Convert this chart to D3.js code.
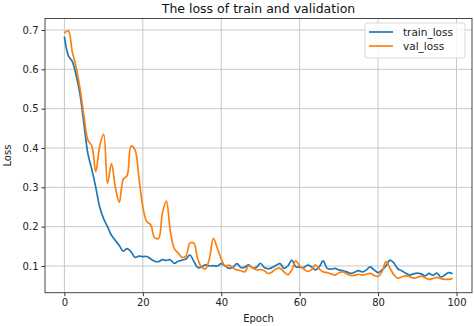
<body style="margin:0;background:#fff">
<script src="https://d3js.org/d3.v7.min.js"></script>
<script>
    const epochs = d3.range(0, 100);
    const trainLoss = [
        0.683, 0.635, 0.620, 0.585, 0.535, 0.460, 0.385, 0.345, 0.300, 0.250,
        0.220, 0.200, 0.178, 0.165, 0.152, 0.138, 0.144, 0.136, 0.122, 0.125,
        0.124, 0.124, 0.118, 0.112, 0.111, 0.116, 0.114, 0.116, 0.107, 0.112,
        0.115, 0.118, 0.128, 0.112, 0.096, 0.098, 0.103, 0.100, 0.101, 0.100,
        0.106, 0.100, 0.094, 0.097, 0.106, 0.096, 0.097, 0.103, 0.095, 0.097,
        0.107, 0.096, 0.093, 0.096, 0.102, 0.106, 0.094, 0.100, 0.115, 0.098,
        0.097, 0.096, 0.102, 0.098, 0.090, 0.098, 0.113, 0.094, 0.092, 0.094,
        0.090, 0.088, 0.085, 0.081, 0.084, 0.088, 0.085, 0.090, 0.098, 0.090,
        0.083, 0.090, 0.100, 0.115, 0.108, 0.093, 0.088, 0.082, 0.077, 0.080,
        0.082, 0.080, 0.075, 0.081, 0.076, 0.082, 0.072, 0.077, 0.083, 0.080
    ];
    const valLoss = [
        0.692, 0.698, 0.645, 0.605, 0.550, 0.480, 0.420, 0.405, 0.340, 0.405,
        0.435, 0.310, 0.360, 0.300, 0.262, 0.320, 0.330, 0.405, 0.395, 0.325,
        0.250, 0.213, 0.205, 0.172, 0.170, 0.235, 0.265, 0.190, 0.145, 0.133,
        0.122, 0.125, 0.158, 0.158, 0.118, 0.097, 0.093, 0.120, 0.170, 0.145,
        0.118, 0.100, 0.102, 0.095, 0.090, 0.088, 0.085, 0.101, 0.095, 0.090,
        0.091, 0.088, 0.081, 0.085, 0.093, 0.094, 0.085, 0.078, 0.090, 0.113,
        0.100, 0.093, 0.086, 0.090, 0.103, 0.092, 0.085, 0.083, 0.080, 0.077,
        0.083, 0.085, 0.080, 0.076, 0.076, 0.079, 0.077, 0.079, 0.081, 0.076,
        0.074, 0.085, 0.111, 0.095, 0.078, 0.069, 0.072, 0.075, 0.073, 0.069,
        0.071, 0.074, 0.070, 0.066, 0.068, 0.071, 0.068, 0.066, 0.066, 0.068
    ];
    const xTicks = [0, 20, 40, 60, 80, 100];
    const yTicks = [0.1, 0.2, 0.3, 0.4, 0.5, 0.6, 0.7];
    const seriesNames = ["train_loss", "val_loss"];
    const colors = ["#1f77b4", "#ff7f0e"];

    const width = 474;
    const height = 326;
    const plotLeft = 45, plotRight = 472, plotTop = 18.5, plotBottom = 292.7;

    const xScale = d3.scaleLinear()
        .domain([-4.95, 103.95])
        .range([plotLeft, plotRight]);

    const yScale = d3.scaleLinear()
        .domain([0.0321, 0.7292])
        .range([plotBottom, plotTop]);

    const svg = d3.select("body")
        .append("svg")
        .attr("width", width)
        .attr("height", height)
        .style("font-family", "DejaVu Sans, sans-serif");

    // grid
    svg.append("g")
        .selectAll("line")
        .data(xTicks)
        .enter()
        .append("line")
        .attr("x1", d => xScale(d)).attr("x2", d => xScale(d))
        .attr("y1", plotTop).attr("y2", plotBottom)
        .attr("stroke", "#c8c8c8").attr("stroke-width", 1);

    svg.append("g")
        .selectAll("line")
        .data(yTicks)
        .enter()
        .append("line")
        .attr("x1", plotLeft).attr("x2", plotRight)
        .attr("y1", d => yScale(d)).attr("y2", d => yScale(d))
        .attr("stroke", "#c8c8c8").attr("stroke-width", 1);

    const line = d3.line()
        .x((d, i) => xScale(epochs[i]))
        .y(d => yScale(d))
        .curve(d3.curveCatmullRom);

    [trainLoss, valLoss].forEach((series, i) => {
        svg.append("path")
            .attr("d", line(series))
            .attr("fill", "none")
            .attr("stroke", colors[i])
            .attr("stroke-width", 1.7);
    });

    // frame
    svg.append("rect")
        .attr("x", plotLeft).attr("y", plotTop)
        .attr("width", plotRight - plotLeft).attr("height", plotBottom - plotTop)
        .attr("fill", "none").attr("stroke", "#333").attr("stroke-width", 0.9);

    const xAxis = d3.axisBottom(xScale).tickValues(xTicks).tickSize(3.5).tickPadding(3);
    const yAxis = d3.axisLeft(yScale).tickValues(yTicks).tickSize(3.5).tickPadding(3)
        .tickFormat(d3.format(".1f"));

    const gx = svg.append("g")
        .attr("transform", "translate(0," + plotBottom + ")")
        .call(xAxis);
    const gy = svg.append("g")
        .attr("transform", "translate(" + plotLeft + ",0)")
        .call(yAxis);
    [gx, gy].forEach(g => {
        g.select(".domain").remove();
        g.selectAll("text").attr("font-size", 10).attr("fill", "#222")
            .style("font-family", "DejaVu Sans, sans-serif");
        g.selectAll("line").attr("stroke", "#333");
    });

    svg.append("text")
        .attr("x", (plotLeft + plotRight) / 2).attr("y", 13)
        .attr("text-anchor", "middle")
        .attr("font-size", 12.5)
        .attr("fill", "#111")
        .text("The loss of train and validation");

    svg.append("text")
        .attr("x", (plotLeft + plotRight) / 2).attr("y", 322)
        .attr("text-anchor", "middle")
        .attr("font-size", 10)
        .attr("fill", "#222")
        .text("Epoch");

    svg.append("text")
        .attr("transform", "translate(11," + (plotTop + plotBottom) / 2 + ") rotate(-90)")
        .attr("text-anchor", "middle")
        .attr("font-size", 10)
        .attr("fill", "#222")
        .text("Loss");

    // legend
    const legend = svg.append("g");
    legend.append("rect")
        .attr("x", 365).attr("y", 23)
        .attr("width", 100).attr("height", 35)
        .attr("rx", 2)
        .attr("fill", "rgba(255,255,255,0.8)")
        .attr("stroke", "#d8d8d8");
    seriesNames.forEach((name, i) => {
        const y = 32 + i * 14;
        legend.append("line")
            .attr("x1", 369).attr("x2", 393)
            .attr("y1", y).attr("y2", y)
            .attr("stroke", colors[i]).attr("stroke-width", 1.7);
        legend.append("text")
            .attr("x", 403).attr("y", y + 3.6)
            .attr("font-size", 10.5)
            .attr("fill", "#222")
            .text(name);
    });
</script>
</body>
